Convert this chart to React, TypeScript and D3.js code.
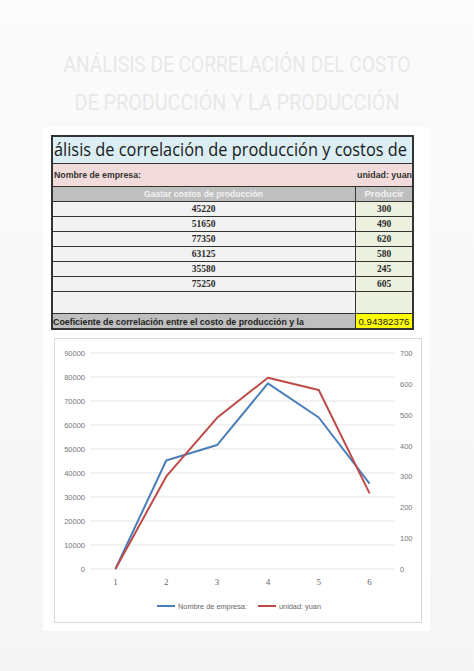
import React from "react";
import * as d3 from "d3";

const pageTitle = ["ANÁLISIS DE CORRELACIÓN DEL COSTO", "DE PRODUCCIÓN Y LA PRODUCCIÓN"];
const tableTitle = "álisis de correlación de producción y costos de";
const companyLabel = "Nombre de empresa:";
const unitLabel = "unidad: yuan";
const headerCost = "Gastar costos de producción";
const headerOutput = "Producir";
const tableCost = [45220, 51650, 77350, 63125, 35580, 75250];
const tableOutput = [300, 490, 620, 580, 245, 605];
const coefLabel = "Coeficiente de correlación entre el costo de producción y la";
const coefValue = "0.94382376";

const categories = ["1", "2", "3", "4", "5", "6"];
const costSeries = [0, 45220, 51650, 77350, 63125, 35580];
const outputSeries = [0, 300, 490, 620, 580, 245];
const leftTicks = [0, 10000, 20000, 30000, 40000, 50000, 60000, 70000, 80000, 90000];
const rightTicks = [0, 100, 200, 300, 400, 500, 600, 700];
const legendNames = ["Nombre de empresa:", "unidad: yuan"];

const W = 474, H = 671;
const BLUE = "#4a7ebb", RED = "#be4b48";

export default function App() {
  const tL = 52, tR = 413, tDiv = 355;
  const rowTops = [201, 216, 231, 246, 261, 276];
  const rowH = 15;

  const x = d3.scaleBand<string>().domain(categories).range([90, 395]).padding(0);
  const cx = (c: string) => (x(c) as number) + x.bandwidth() / 2;
  const yL = d3.scaleLinear().domain([0, 90000]).range([569, 353]);
  const yR = d3.scaleLinear().domain([0, 700]).range([569, 353]);
  const lineL = d3.line<number>().x((_, i) => cx(categories[i])).y((d) => yL(d));
  const lineR = d3.line<number>().x((_, i) => cx(categories[i])).y((d) => yR(d));

  const titleWidths = [347, 325];

  return (
    <svg width={W} height={H} style={{ position: "absolute", left: 0, top: 0, display: "block" }}>
      <defs>
        <linearGradient id="bg" x1="0" y1="0" x2="0" y2="1">
          <stop offset="0" stopColor="#fbfbfb" />
          <stop offset="1" stopColor="#f5f5f5" />
        </linearGradient>
      </defs>
      <rect x={0} y={0} width={W} height={H} fill="url(#bg)" />
      {pageTitle.map((t, i) => (
        <text key={i} x={237} y={72 + i * 38} textAnchor="middle" fontFamily="Roboto" fontSize={22}
          textLength={titleWidths[i]} lengthAdjust="spacingAndGlyphs" fill="#e8e8e8">{t}</text>
      ))}
      <rect x={43} y={127} width={387} height={504} fill="#ffffff" />

      {/* table */}
      <rect x={tL} y={136} width={tR - tL} height={27} fill="#dbeef4" />
      <text x={54} y={156} fontFamily="Open Sans" fontSize={19} fill="#1a1a1a" fontWeight={500}
        textLength={353} lengthAdjust="spacingAndGlyphs">{tableTitle}</text>
      <rect x={tL} y={163} width={tR - tL} height={23} fill="#f2dcdb" />
      <text x={54} y={178} fontFamily="Liberation Sans" fontWeight="bold" fontSize={9.5} fill="#333"
        textLength={87} lengthAdjust="spacingAndGlyphs">{companyLabel}</text>
      <text x={412} y={178} textAnchor="end" fontFamily="Liberation Sans" fontWeight="bold" fontSize={9.5}
        fill="#333" textLength={55} lengthAdjust="spacingAndGlyphs">{unitLabel}</text>
      <rect x={tL} y={186} width={tR - tL} height={15} fill="#bfbfbf" />
      <text x={(tL + tDiv) / 2} y={197} textAnchor="middle" fontFamily="Liberation Sans" fontWeight="bold"
        fontSize={9.5} fill="#f2f2f2" textLength={119} lengthAdjust="spacingAndGlyphs">{headerCost}</text>
      <text x={(tDiv + tR) / 2} y={197} textAnchor="middle" fontFamily="Liberation Sans" fontWeight="bold"
        fontSize={9.5} fill="#f2f2f2">{headerOutput}</text>
      {tableCost.map((v, i) => (
        <g key={i}>
          <rect x={tL} y={rowTops[i]} width={tDiv - tL} height={rowH} fill="#f2f2f2" />
          <rect x={tDiv} y={rowTops[i]} width={tR - tDiv} height={rowH} fill="#ebf1de" />
          <text x={(tL + tDiv) / 2} y={rowTops[i] + 11} textAnchor="middle" fontFamily="Liberation Serif"
            fontWeight="bold" fontSize={9.5} fill="#2a2a2a">{v}</text>
          <text x={(tDiv + tR) / 2} y={rowTops[i] + 11} textAnchor="middle" fontFamily="Liberation Serif"
            fontWeight="bold" fontSize={9.5} fill="#2a2a2a">{tableOutput[i]}</text>
        </g>
      ))}
      <rect x={tL} y={291} width={tDiv - tL} height={22} fill="#f2f2f2" />
      <rect x={tDiv} y={291} width={tR - tDiv} height={22} fill="#ebf1de" />
      <rect x={tL} y={313} width={tDiv - tL} height={16} fill="#bfbfbf" />
      <rect x={tDiv} y={313} width={tR - tDiv} height={16} fill="#ffff00" />
      <text x={53} y={325} fontFamily="Liberation Sans" fontWeight="bold" fontSize={9.5} fill="#222"
        textLength={251} lengthAdjust="spacingAndGlyphs">{coefLabel}</text>
      <text x={(tDiv + tR) / 2} y={325} textAnchor="middle" fontFamily="Liberation Sans" fontSize={9.5}
        fill="#222" textLength={51} lengthAdjust="spacingAndGlyphs">{coefValue}</text>
      <g stroke="#333" strokeWidth={1} fill="none">
        {[163, 186, 201, 216, 231, 246, 261, 276, 291, 313].map((yy) => (
          <line key={yy} x1={tL} x2={tR} y1={yy + 0.5} y2={yy + 0.5} />
        ))}
        <line x1={tDiv + 0.5} x2={tDiv + 0.5} y1={186} y2={329} />
        <rect x={tL} y={136} width={tR - tL} height={193} strokeWidth={2} />
      </g>

      {/* chart panel */}
      <rect x={54.5} y={338.5} width={367} height={284} fill="#fff" stroke="#d9d9d9" />
      {leftTicks.map((t) => (
        <line key={t} x1={90} x2={395} y1={yL(t)} y2={yL(t)} stroke="#e3e3e3" />
      ))}
      {leftTicks.map((t) => (
        <text key={t} x={85} y={yL(t) + 3} textAnchor="end" fontFamily="Liberation Sans" fontSize={7.5}
          fill="#777">{t}</text>
      ))}
      {rightTicks.map((t) => (
        <text key={t} x={400} y={yR(t) + 3} fontFamily="Liberation Sans" fontSize={7.5} fill="#777">{t}</text>
      ))}
      {categories.map((c) => (
        <text key={c} x={cx(c)} y={585} textAnchor="middle" fontFamily="Liberation Serif" fontSize={9}
          fill="#666">{c}</text>
      ))}
      <path d={lineL(costSeries) as string} fill="none" stroke={BLUE} strokeWidth={2} strokeLinejoin="round" />
      <path d={lineR(outputSeries) as string} fill="none" stroke={RED} strokeWidth={2} strokeLinejoin="round" />
      <line x1={157} x2={175} y1={606} y2={606} stroke={BLUE} strokeWidth={2} />
      <text x={178} y={609} fontFamily="Liberation Sans" fontSize={7.5} fill="#666"
        textLength={69} lengthAdjust="spacingAndGlyphs">{legendNames[0]}</text>
      <line x1={258} x2={276} y1={606} y2={606} stroke={RED} strokeWidth={2} />
      <text x={279} y={609} fontFamily="Liberation Sans" fontSize={7.5} fill="#666"
        textLength={42} lengthAdjust="spacingAndGlyphs">{legendNames[1]}</text>
    </svg>
  );
}
